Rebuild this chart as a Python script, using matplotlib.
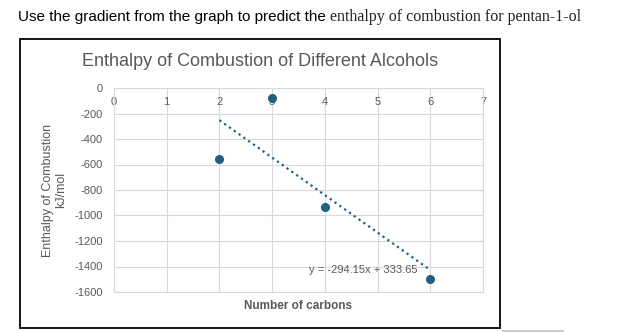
import matplotlib
matplotlib.use("Agg")
import matplotlib.pyplot as plt
import numpy as np
from matplotlib.patches import Rectangle
from matplotlib.lines import Line2D

# data
carbons = [2, 3, 4, 6]
enthalpy = [-557, -78, -933, -1498]
x_ticks = [0, 1, 2, 3, 4, 5, 6, 7]
y_ticks = [0, -200, -400, -600, -800, -1000, -1200, -1400, -1600]
eq_label = "y = -294.15x + 333.65"

blue = "#1F5F7F"
grey = "#595959"
gridc = "#D9D9D9"

plt.rcParams['font.family'] = ['Liberation Sans', 'DejaVu Sans']
plt.rcParams['axes.unicode_minus'] = False

fig = plt.figure(figsize=(6.18, 3.32), dpi=100)
ax = fig.add_axes([114/618, 1-292/332, (483-114)/618, (292-88)/332])

ax.plot(carbons, enthalpy, 'o', color=blue, ms=5.5, zorder=3)

# linear trendline over the data range
m, c = np.polyfit(carbons, enthalpy, 1)
xt = np.array([min(carbons), max(carbons)])
ax.plot(xt, m*xt + c, ':', color=blue, lw=1.6, zorder=2)
ax.text(4.72, -1427, eq_label, ha='center', va='center', fontsize=8, color=grey)

ax.set_xlim(0, 7)
ax.set_ylim(-1600, 0)
ax.set_xticks(x_ticks)
ax.set_yticks(y_ticks)
ax.grid(True, color=gridc, lw=0.8)
ax.set_axisbelow(True)
for s in ax.spines.values():
    s.set_color(gridc)
    s.set_linewidth(0.8)
ax.tick_params(axis='x', top=False, bottom=False, labeltop=True, labelbottom=False,
               length=0, pad=-14, labelsize=8, labelcolor=grey)
ax.tick_params(axis='y', length=0, pad=8, labelsize=8, labelcolor=grey)
ax.set_xlabel("Number of carbons", fontsize=8.5, fontweight='bold', color=grey, labelpad=6)
ax.set_ylabel("Enthalpy of Combustion\nkJ/mol", fontsize=9, color=grey, labelpad=5)

fig.text(260/618, 1-61/332, "Enthalpy of Combustion of Different Alcohols",
         ha='center', va='center', fontsize=13, color=grey)

# chart frame
fig.patches.append(Rectangle((20/618, 1-328/332), 480/618, 289/332, transform=fig.transFigure,
                             fill=False, ec='black', lw=1.3))
fig.lines.append(Line2D([503/618, 563/618], [1-331/332, 1-331/332], transform=fig.transFigure,
                        color='#BFBFBF', lw=1.2))

# question text: sans part then serif part
t1 = fig.text(18/618, 1-17/332, "Use the gradient from the graph to predict the ",
              ha='left', va='center', fontsize=11, color='black')
fig.canvas.draw()
bb = t1.get_window_extent()
fig.text(bb.x1/618, 1-17/332, "enthalpy of combustion for pentan-1-ol",
         ha='left', va='center', fontsize=11.5, color='#222222', family='Liberation Serif')

fig.savefig("out.png", dpi=100)
